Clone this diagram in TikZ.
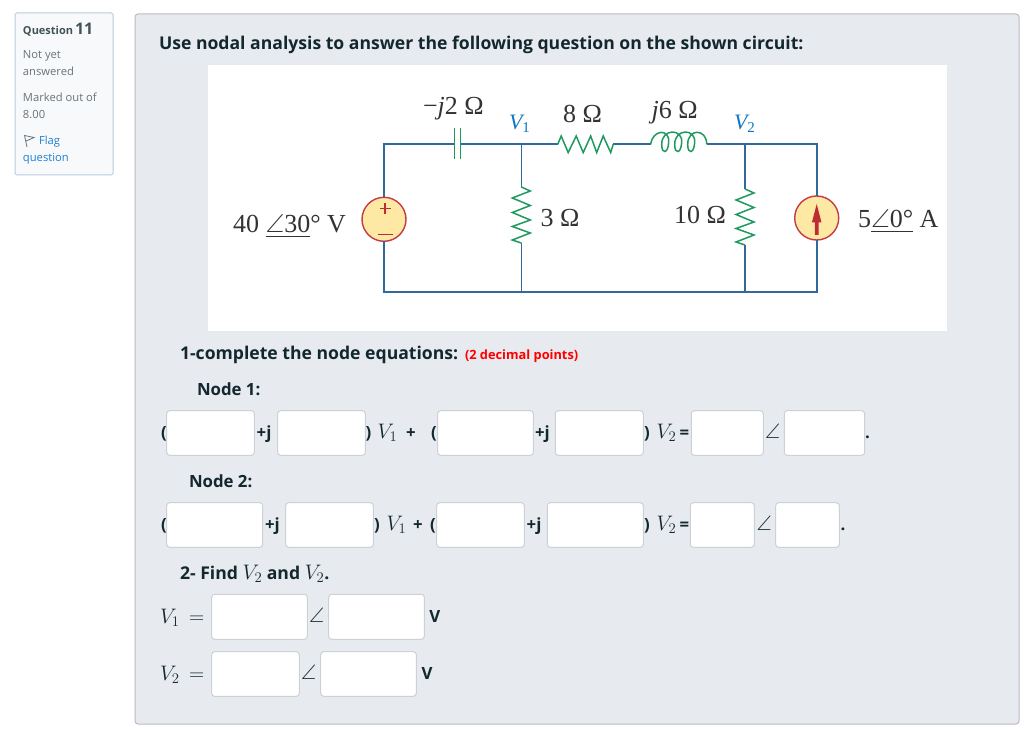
\documentclass[tikz,border=0pt]{standalone}
\usepackage{fix-cm}
\usepackage{fontspec}
\setmainfont{Open Sans}
\newfontfamily\timesf{Liberation Serif}
\usepackage{amssymb}
\definecolor{panelbg}{HTML}{E7EAEE}
\definecolor{panelline}{HTML}{B9BDC2}
\definecolor{sidebg}{HTML}{F8F9FA}
\definecolor{sideline}{HTML}{B9CBE2}
\definecolor{ink}{HTML}{12282E}
\definecolor{sidegray}{HTML}{6A737B}
\definecolor{linkblue}{HTML}{1F7FD1}
\definecolor{boxline}{HTML}{CDD1D7}
\definecolor{wire}{HTML}{33689C}
\definecolor{elem}{HTML}{1F9A5E}
\definecolor{srcfill}{HTML}{FDE9A4}
\definecolor{srcline}{HTML}{C53A45}
\definecolor{srcred}{HTML}{BE2B33}
\definecolor{nodeblue}{HTML}{1175C4}
\definecolor{cirtext}{HTML}{333333}
\tikzset{
  txt/.style={inner sep=0pt,outer sep=0pt,anchor=base west,text=ink},
  bodytxt/.style={txt,font=\bfseries\fontsize{16.8}{20}\selectfont},
  eqtxt/.style={txt,font=\fontsize{21}{24}\selectfont},
  sidetxt/.style={txt,text=sidegray,font=\fontsize{11.2}{13}\selectfont},
  linktxt/.style={txt,text=linkblue,font=\fontsize{11.2}{13}\selectfont},
  cirtxt/.style={txt,text=cirtext,font=\timesf\fontsize{26}{28}\selectfont},
  nodetxt/.style={txt,text=nodeblue,font=\timesf\itshape\fontsize{22}{26}\selectfont},
  ansbox/.style={draw=boxline,fill=white,line width=1pt,rounded corners=3pt,inner sep=0pt,outer sep=0pt},
  wireline/.style={draw=wire,line width=1.6pt},
  elemline/.style={draw=elem,line width=1.5pt,line join=miter},
  srcnode/.style={circle,draw=srcline,fill=srcfill,line width=1.4pt,minimum size=44pt,inner sep=0pt,outer sep=0pt},
  resv/.pic={\path[elemline] (0,0) -- (9,4) -- (-9,11) -- (9,18.5) -- (-9,25.5) -- (9,33) -- (-9,39.5) -- (9,46) -- (-9,53) -- (0,56);},
  resh/.pic={\path[elemline] (0,0) -- (3.5,-8.3) -- (10.5,8.3) -- (18.5,-8.3) -- (25.5,8.3) -- (33,-8.3) -- (39,8.3) -- (45.5,-8.3) -- (53,8.3) -- (55.5,0);},
  coil/.pic={\path[elemline] (0,0) .. controls (2,-15) and (19,-16) .. (18,-2)
     .. controls (17.5,9) and (11,11) .. (11,0) .. controls (11,-16) and (32,-16) .. (31,-2)
     .. controls (30.5,9) and (24,11) .. (24,0) .. controls (24,-16) and (45,-16) .. (44,-2)
     .. controls (43.5,9) and (37,11) .. (37,0) .. controls (37,-16) and (56,-16) .. (56,0);},
}
\newcommand{\ansbox}[5]{\node[ansbox,minimum width={(#4-#2)*1pt},minimum height={(#5-#3)*1pt}] (#1) at ({(#2+#4)/2},{(#3+#5)/2}) {};}
\begin{document}
\begin{tikzpicture}[x=1pt,y=-1pt]
\useasboundingbox (0,0) rectangle (1028,730);
\fill[white] (0,0) rectangle (1028,730);
% panels
\node[draw=sideline,fill=sidebg,line width=1pt,rounded corners=1.5pt,minimum width=98pt,minimum height=162pt,inner sep=0pt] (side) at (64,94) {};
\node[draw=panelline,fill=panelbg,line width=1pt,rounded corners=3pt,minimum width=884pt,minimum height=710pt,inner sep=0pt] (panel) at (577,369) {};
% sidebar text
\node[txt,text=ink!80,font=\bfseries\fontsize{11}{13}\selectfont] (q) at (23,35) {Question};
\node[txt,text=ink!80,font=\bfseries\fontsize{16}{18}\selectfont] (qn) at (75,35) {11};
\node[sidetxt] (s1) at (23,59) {Not yet};
\node[sidetxt] (s2) at (23,76) {answered};
\node[sidetxt] (s3) at (23,102) {Marked out of};
\node[sidetxt] (s4) at (23,119) {8.00};
\draw[sidegray,line width=.8pt] (27,147) -- (24.5,135.5) -- (34,137.5) -- (28.5,140) -- (26,141);
\node[linktxt] (s5) at (39,145) {Flag};
\node[linktxt] (s6) at (23,162) {question};
% title
\node[bodytxt,font=\bfseries\fontsize{17.6}{20}\selectfont] (title) at (159,50) {Use nodal analysis to answer the following question on the shown circuit:};
% figure
\node[fill=white,minimum width=739pt,minimum height=266pt,inner sep=0pt] (fig) at (577.5,198) {};
\coordinate (tl) at (384,144.3);
\coordinate (bl) at (384,291.7);
\coordinate (capa) at (454.3,144.3);
\coordinate (capb) at (460.7,144.3);
\coordinate (v1) at (521.3,144.3);
\coordinate (b1) at (521.3,291.7);
\coordinate (r8a) at (557.7,144.3);
\coordinate (r8b) at (613.2,144.3);
\coordinate (la) at (650.7,144.3);
\coordinate (lb) at (706.7,144.3);
\coordinate (v2) at (745,144.3);
\coordinate (b2) at (745,291.7);
\coordinate (tr) at (816.7,144.3);
\coordinate (br) at (816.7,291.7);
\coordinate (r3a) at (521.3,187);
\coordinate (r3b) at (521.3,243);
\coordinate (r10a) at (745,189);
\coordinate (r10b) at (745,245);
\node[srcnode] (vs) at (384,219.3) {};
\node[srcnode] (is) at (816.7,218) {};
\path[wireline] (vs) -- (tl) -- (capa);
\path[wireline] (capb) -- (v1) -- (r8a);
\path[wireline] (r8b) -- (la);
\path[wireline] (lb) -- (v2) -- (tr) -- (is);
\path[wireline] (is) -- (br) -- (b2) -- (b1) -- (bl) -- (vs);
\path[wireline] (v1) -- (r3a);
\path[wireline] (r3b) -- (b1);
\path[wireline] (v2) -- (r10a);
\path[wireline] (r10b) -- (b2);
\path[elemline] ([yshift=16pt]capa) -- ([yshift=-15pt]capa);
\path[elemline] ([yshift=16pt]capb) -- ([yshift=-15pt]capb);
\pic at (r8a) {resh};
\pic at (la) {coil};
\pic at (r3a) {resv};
\pic at (r10a) {resv};
% source marks
\draw[srcred,line width=1.3pt] (379.5,208.3) -- (390.5,208.3) (385,202.8) -- (385,213.8);
\draw[srcred,line width=1.6pt] (377.5,234.7) -- (392.5,234.7);
\fill[srcred] (816.7,204) -- (821.5,222.5) -- (818.6,222.5) -- (818.6,235) -- (814.8,235) -- (814.8,222.5) -- (811.9,222.5) -- cycle;
% circuit labels
\node[cirtxt] (lc) at (423,114.5) {−\textit{j}2 Ω};
\node[nodetxt] (lv1) at (509,130) {V\raisebox{-3pt}{\upshape\fontsize{15}{15}\selectfont 1}};
\node[cirtxt] (l8) at (563,122.5) {8 Ω};
\node[cirtxt] (l6) at (651.7,119) {\textit{j}6 Ω};
\node[nodetxt] (lv2) at (734,130) {V\raisebox{-3pt}{\upshape\fontsize{15}{15}\selectfont 2}};
\node[cirtxt] (l3) at (540.7,226) {3 Ω};
\node[cirtxt] (l10) at (674,223.5) {10 Ω};
\node[cirtxt] (lvs) at (233,232.7) {40 \underline{$\angle$30}° V};
\node[cirtxt] (lis) at (858,227.5) {5\underline{$\angle$0°} A};
% question text
\node[bodytxt,font=\bfseries\fontsize{17.6}{20}\selectfont] (h1) at (180,359.3) {1-complete the node equations:};
\node[txt,text=red,font=\bfseries\fontsize{12.8}{14}\selectfont] (h2) at (465,359.3) {(2 decimal points)};
\node[bodytxt] (n1) at (197,395) {Node 1:};
\node[bodytxt] (n2) at (189,487) {Node 2:};
% row 1
\ansbox{a1}{166.7}{410.7}{254.3}{455.3}
\ansbox{a2}{277.7}{410.7}{365.3}{455.3}
\ansbox{a3}{437.7}{410.7}{533.3}{455.3}
\ansbox{a4}{555.3}{410.7}{643.3}{455.3}
\ansbox{a5}{691.3}{410.7}{763.3}{455.3}
\ansbox{a6}{784.3}{410.7}{864.7}{455.3}
\node[bodytxt] (p1) at (161,438) {(};
\node[bodytxt] (pj1) at (256.7,438) {+j};
\node[bodytxt] (c1) at (365.5,438) {)};
\node[eqtxt] (v11) at (377.7,438) {$V_1$};
\node[bodytxt] (pl1) at (406,438) {+};
\node[bodytxt] (p2) at (431,438) {(};
\node[bodytxt] (pj2) at (535,438) {+j};
\node[bodytxt] (c2) at (644,438) {)};
\node[eqtxt] (v21) at (656.7,438) {$V_2$};
\node[bodytxt] (e1) at (679.5,438) {=};
\node[eqtxt] (an1) at (765,438) {$\angle$};
\node[bodytxt] (d1) at (865,438) {.};
% row 2
\ansbox{b1b}{166.7}{502.7}{262.7}{547.3}
\ansbox{b2b}{285.7}{502.7}{373.3}{547.3}
\ansbox{b3b}{436.7}{502.7}{524.3}{547.3}
\ansbox{b4b}{547.3}{502.7}{643.3}{547.3}
\ansbox{b5b}{690.3}{502.7}{754.3}{547.3}
\ansbox{b6b}{775.7}{502.7}{839.3}{547.3}
\node[bodytxt] (p3) at (161,530) {(};
\node[bodytxt] (pj3) at (265,530) {+j};
\node[bodytxt] (c3) at (374,530) {)};
\node[eqtxt] (v12) at (386.7,530) {$V_1$};
\node[bodytxt] (pl2) at (413,530) {+};
\node[bodytxt] (p4) at (430,530) {(};
\node[bodytxt] (pj4) at (526.7,530) {+j};
\node[bodytxt] (c4) at (644,530) {)};
\node[eqtxt] (v22) at (656.7,530) {$V_2$};
\node[bodytxt] (e2) at (679.5,530) {=};
\node[eqtxt] (an2) at (756.7,530) {$\angle$};
\node[bodytxt] (d2) at (840.5,530) {.};
% find
\node[bodytxt,font=\bfseries\fontsize{17.6}{20}\selectfont] (f) at (180,579) {2- Find {\fontsize{21}{24}\selectfont$V_2$} and {\fontsize{21}{24}\selectfont$V_2$}.};
\node[eqtxt] (lv1b) at (160,623) {$V_1$};
\node[eqtxt] (eq3) at (189,623) {$=$};
\ansbox{c1b}{211.7}{594.3}{307.3}{639.3}
\node[eqtxt] (an3) at (309,622) {$\angle$};
\ansbox{c2b}{328.7}{594.3}{424.3}{639.3}
\node[bodytxt] (u1) at (429.3,622) {V};
\node[eqtxt] (lv2b) at (160,680) {$V_2$};
\node[eqtxt] (eq4) at (189,680) {$=$};
\ansbox{d1b}{211.7}{651.7}{299.3}{696.3}
\node[eqtxt] (an4) at (301,679) {$\angle$};
\ansbox{d2b}{320.7}{651.7}{416.3}{696.3}
\node[bodytxt] (u2) at (421.7,679) {V};
\end{tikzpicture}
\end{document}
